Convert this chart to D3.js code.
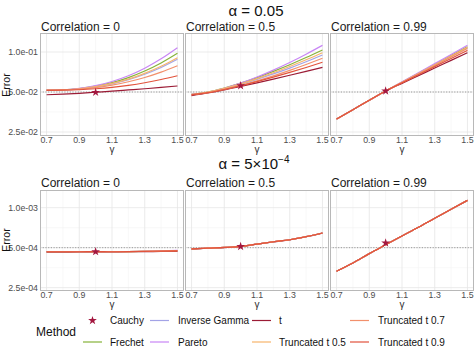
<!DOCTYPE html>
<html><head><meta charset="utf-8">
<script src="https://cdn.jsdelivr.net/npm/d3@7"></script>
<style>body{margin:0;background:#fff}svg text{font-family:"Liberation Sans",Arial,sans-serif}</style>
</head><body><svg id="c" width="474" height="348"></svg>
<script>
// ---------- data ----------
const gamma = [0.7, 0.8, 0.9, 1.0, 1.1, 1.2, 1.3, 1.4, 1.5];
const correlations = ["0", "0.5", "0.99"];
const methods = ["Frechet", "Inverse Gamma", "Pareto", "t", "Truncated t 0.5", "Truncated t 0.7", "Truncated t 0.9"];
const methodColors = ["#86b23a", "#a3a3e6", "#c886f5", "#9b1b35", "#f7b46c", "#f2906c", "#e2533c"];
const cauchyColor = "#a3173f";
const xTicks = [0.7, 0.9, 1.1, 1.3, 1.5];
const xMinor = [0.8, 1.0, 1.2, 1.4];
const yTicksTop = [0.025, 0.05, 0.1];
const yLabelsTop = ["2.5e-02", "5.0e-02", "1.0e-01"];
const yTicksBottom = [0.00025, 0.0005, 0.001];
const yLabelsBottom = ["2.5e-04", "5.0e-04", "1.0e-03"];

// alpha = 0.05 (rows: methods in order above)
const errA05C0 = [
  [0.0517,0.0520,0.0531,0.0553,0.0588,0.0642,0.0719,0.0827,0.0978],
  [0.0517,0.0519,0.0528,0.0547,0.0576,0.0619,0.0680,0.0765,0.0881],
  [0.0517,0.0520,0.0533,0.0558,0.0600,0.0663,0.0755,0.0888,0.1077],
  [0.0477,0.0482,0.0489,0.0498,0.0507,0.0518,0.0529,0.0541,0.0555],
  [0.0517,0.0519,0.0529,0.0548,0.0580,0.0625,0.0691,0.0781,0.0906],
  [0.0517,0.0519,0.0526,0.0540,0.0564,0.0597,0.0643,0.0706,0.0789],
  [0.0515,0.0516,0.0520,0.0529,0.0542,0.0561,0.0587,0.0621,0.0663]
];
const errA05C05 = [
  [0.0480,0.0500,0.0536,0.0583,0.0642,0.0715,0.0802,0.0908,0.1035],
  [0.0480,0.0498,0.0529,0.0571,0.0622,0.0684,0.0757,0.0845,0.0949],
  [0.0480,0.0498,0.0534,0.0583,0.0648,0.0731,0.0834,0.0963,0.1123],
  [0.0470,0.0492,0.0519,0.0551,0.0586,0.0625,0.0668,0.0715,0.0767],
  [0.0480,0.0499,0.0532,0.0576,0.0631,0.0698,0.0778,0.0874,0.0988],
  [0.0478,0.0495,0.0523,0.0561,0.0607,0.0662,0.0728,0.0806,0.0897],
  [0.0476,0.0494,0.0522,0.0557,0.0599,0.0647,0.0702,0.0765,0.0837]
];
const errA05C99 = [
  [0.0313,0.0368,0.0433,0.0509,0.0593,0.0692,0.0806,0.0940,0.1096],
  [0.0313,0.0368,0.0433,0.0509,0.0591,0.0686,0.0797,0.0926,0.1076],
  [0.0313,0.0368,0.0433,0.0509,0.0596,0.0699,0.0818,0.0959,0.1123],
  [0.0313,0.0368,0.0433,0.0509,0.0581,0.0663,0.0758,0.0865,0.0988],
  [0.0313,0.0368,0.0433,0.0509,0.0592,0.0688,0.0800,0.0931,0.1083],
  [0.0313,0.0368,0.0433,0.0509,0.0589,0.0683,0.0791,0.0917,0.1062],
  [0.0313,0.0368,0.0433,0.0509,0.0586,0.0674,0.0776,0.0893,0.1029]
];
// alpha = 5e-4
const errA5e4C0 = [
  [0.000466,0.000466,0.000466,0.000467,0.000466,0.000467,0.000469,0.000473,0.000476],
  [0.000466,0.000466,0.000466,0.000467,0.000466,0.000467,0.000469,0.000472,0.000475],
  [0.000466,0.000466,0.000467,0.000467,0.000467,0.000468,0.000470,0.000474,0.000478],
  [0.000463,0.000463,0.000464,0.000465,0.000465,0.000466,0.000467,0.000468,0.000469],
  [0.000466,0.000466,0.000466,0.000467,0.000466,0.000467,0.000469,0.000472,0.000475],
  [0.000466,0.000466,0.000466,0.000467,0.000466,0.000467,0.000469,0.000472,0.000474],
  [0.000466,0.000466,0.000466,0.000467,0.000466,0.000467,0.000469,0.000471,0.000473]
];
const errA5e4C05 = [
  [0.000489,0.000496,0.000502,0.000511,0.000532,0.000554,0.000574,0.000605,0.000645],
  [0.000489,0.000496,0.000502,0.000511,0.000532,0.000554,0.000574,0.000605,0.000645],
  [0.000489,0.000496,0.000502,0.000511,0.000532,0.000554,0.000574,0.000605,0.000645],
  [0.000488,0.000495,0.000501,0.000510,0.000531,0.000553,0.000573,0.000604,0.000643],
  [0.000489,0.000496,0.000502,0.000511,0.000532,0.000554,0.000574,0.000605,0.000645],
  [0.000489,0.000496,0.000502,0.000511,0.000532,0.000554,0.000574,0.000605,0.000645],
  [0.000489,0.000496,0.000502,0.000511,0.000532,0.000554,0.000574,0.000605,0.000645]
];
const errA5e4C99 = [
  [0.000332,0.000383,0.000451,0.000526,0.000613,0.000712,0.000834,0.000973,0.001135],
  [0.000332,0.000383,0.000451,0.000526,0.000613,0.000712,0.000834,0.000973,0.001135],
  [0.000332,0.000383,0.000451,0.000526,0.000613,0.000712,0.000834,0.000973,0.001135],
  [0.000332,0.000383,0.000451,0.000526,0.000613,0.000712,0.000834,0.000973,0.001135],
  [0.000332,0.000383,0.000451,0.000526,0.000613,0.000712,0.000834,0.000973,0.001135],
  [0.000332,0.000383,0.000451,0.000526,0.000613,0.000712,0.000834,0.000973,0.001135],
  [0.000332,0.000383,0.000451,0.000526,0.000613,0.000712,0.000834,0.000973,0.001135]
];
const cauchyGamma = 1.0;
const cauchyA05 = [0.0497, 0.0558, 0.0509];
const cauchyA5e4 = [0.000467, 0.000511, 0.000543];

// ---------- layout ----------
const svg = d3.select("#c");
const panelX = [40, 185, 330], panelW = 144;
const rows = [
  {top: 33, bottom: 136, domain: [0.02333, 0.1390], ticks: yTicksTop, labels: yLabelsTop, ref: 0.05,
   series: [errA05C0, errA05C05, errA05C99], cauchy: cauchyA05, strip: 31, xlab: 143, gl: 152.5, ytitle: 85},
  {top: 190, bottom: 291, domain: [0.000236, 0.001359], ticks: yTicksBottom, labels: yLabelsBottom, ref: 0.0005,
   series: [errA5e4C0, errA5e4C05, errA5e4C99], cauchy: cauchyA5e4, strip: 187, xlab: 298.3, gl: 307.8, ytitle: 240}
];
const star = d3.symbol().type(d3.symbolStar).size(24);

svg.append("text").attr("x", 256).attr("y", 16).attr("text-anchor", "middle")
  .attr("font-size", 15).attr("fill", "#111").text("α = 0.05");
const t2 = svg.append("text").attr("x", 254).attr("y", 169).attr("text-anchor", "middle")
  .attr("font-size", 15).attr("fill", "#111");
t2.append("tspan").text("α = 5×10");
t2.append("tspan").attr("dy", -6).attr("font-size", 10).text("−4");

rows.forEach((row, ri) => {
  const y = d3.scaleLog().domain(row.domain).range([row.bottom, row.top]);
  const yMinor = [row.ticks[0] * Math.SQRT2, row.ticks[1] * Math.SQRT2];
  row.ticks.forEach((tv, i) => {
    svg.append("text").attr("x", 38).attr("y", y(tv)).attr("dy", "0.35em")
      .attr("text-anchor", "end").attr("font-size", 8.8).attr("fill", "#4d4d4d").text(row.labels[i]);
  });
  svg.append("text").attr("transform", `translate(9.6,${row.ytitle}) rotate(-90)`)
    .attr("text-anchor", "middle").attr("font-size", 10.5).attr("fill", "#111").text("Error");

  panelX.forEach((px, pi) => {
    const x = d3.scaleLinear().domain([0.66, 1.54]).range([px, px + panelW]);
    const g = svg.append("g");
    const cid = `clip${ri}${pi}`;
    g.append("clipPath").attr("id", cid).append("rect")
      .attr("x", px).attr("y", row.top).attr("width", panelW).attr("height", row.bottom - row.top);
    xMinor.forEach(v => g.append("line").attr("x1", x(v)).attr("x2", x(v)).attr("y1", row.top).attr("y2", row.bottom)
      .attr("stroke", "#f3f3f3").attr("stroke-width", 0.6));
    yMinor.forEach(v => g.append("line").attr("x1", px).attr("x2", px + panelW).attr("y1", y(v)).attr("y2", y(v))
      .attr("stroke", "#f3f3f3").attr("stroke-width", 0.6));
    xTicks.forEach(v => g.append("line").attr("x1", x(v)).attr("x2", x(v)).attr("y1", row.top).attr("y2", row.bottom)
      .attr("stroke", "#e6e6e6").attr("stroke-width", 0.8));
    row.ticks.forEach(v => g.append("line").attr("x1", px).attr("x2", px + panelW).attr("y1", y(v)).attr("y2", y(v))
      .attr("stroke", "#e6e6e6").attr("stroke-width", 0.8));
    g.append("line").attr("x1", px).attr("x2", px + panelW).attr("y1", y(row.ref)).attr("y2", y(row.ref))
      .attr("stroke", "#9a9a9a").attr("stroke-width", 1).attr("stroke-dasharray", "1.2,1.5");
    const line = d3.line().x((d, i) => x(gamma[i])).y(d => y(d)).curve(d3.curveMonotoneX);
    const lg = g.append("g").attr("clip-path", `url(#${cid})`);
    row.series[pi].forEach((vals, mi) => {
      lg.append("path").attr("d", line(vals)).attr("fill", "none")
        .attr("stroke", methodColors[mi]).attr("stroke-width", 1.2);
    });
    lg.append("path").attr("d", star).attr("transform", `translate(${x(cauchyGamma)},${y(row.cauchy[pi])})`)
      .attr("fill", cauchyColor);
    g.append("rect").attr("x", px + 0.5).attr("y", row.top + 0.5).attr("width", panelW - 1)
      .attr("height", row.bottom - row.top - 1).attr("fill", "none").attr("stroke", "#b8b8b8").attr("stroke-width", 1);
    xTicks.forEach(v => svg.append("text").attr("x", x(v)).attr("y", row.xlab).attr("text-anchor", "middle")
      .attr("font-size", 8.8).attr("fill", "#4d4d4d").text(d3.format(".1f")(v)));
    svg.append("text").attr("x", px + panelW / 2).attr("y", row.gl).attr("text-anchor", "middle")
      .attr("font-size", 10).attr("fill", "#333").text("γ");
    svg.append("text").attr("x", px + 1).attr("y", row.strip).attr("font-size", 12).attr("fill", "#1a1a1a")
      .text("Correlation = " + correlations[pi]);
  });
});

// ---------- legend ----------
svg.append("text").attr("x", 36).attr("y", 336).attr("font-size", 12).attr("fill", "#111").text("Method");
const legendItems = ["Cauchy"].concat(methods);
const colKeyX = [83, 150, 252, 350], colTextX = [110, 178, 279, 378], rowY = [320.5, 342];
legendItems.forEach((name, i) => {
  const col = Math.floor(i / 2), r = i % 2;
  const cy = rowY[r];
  if (name === "Cauchy") {
    svg.append("path").attr("d", star).attr("transform", `translate(${colKeyX[col] + 9.5},${cy})`).attr("fill", cauchyColor);
  } else {
    svg.append("line").attr("x1", colKeyX[col]).attr("x2", colKeyX[col] + 19).attr("y1", cy).attr("y2", cy)
      .attr("stroke", methodColors[methods.indexOf(name)]).attr("stroke-width", 1.2);
  }
  svg.append("text").attr("x", colTextX[col]).attr("y", cy).attr("dy", "0.35em").attr("font-size", 10)
    .attr("fill", "#111").text(name);
});
</script></body></html>
